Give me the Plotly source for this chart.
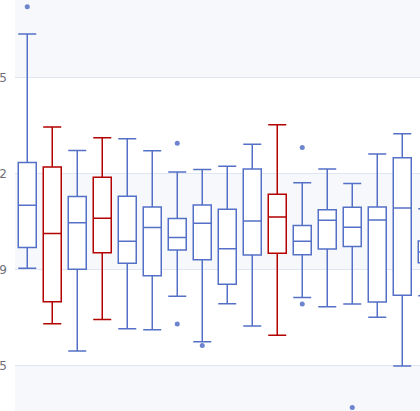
import plotly.graph_objects as go

# ---- data ----
CATEGORIES = ["1", "2", "3", "4", "5", "6", "7", "8", "9",
              "10", "11", "12", "13", "14", "15", "16", "17"]
GROUP = ["b", "r", "b", "r", "b", "b", "b", "b", "b",
         "b", "r", "b", "b", "b", "b", "b", "b"]
UPPER = [16.00, 12.78, 11.97, 12.41, 12.38, 11.96, 11.23, 11.32, 11.43,
         12.19, 12.86, 10.86, 11.33, 10.83, 11.85, 12.55, 9.96]
Q3 = [11.56, 11.40, 10.38, 11.05, 10.39, 10.02, 9.62, 10.09, 9.94,
      11.33, 10.46, 9.38, 9.93, 10.01, 10.02, 11.72, 8.85]
MEDIAN = [10.08, 9.11, 9.48, 9.63, 8.84, 9.31, 8.97, 9.46, 8.58,
          9.54, 9.68, 8.84, 9.56, 9.32, 9.57, 9.99, 8.47]
Q1 = [8.62, 6.75, 7.87, 8.44, 8.08, 7.65, 8.54, 8.20, 7.35,
      8.36, 8.42, 8.37, 8.57, 8.66, 6.74, 6.97, 8.10]
LOWER = [7.91, 5.99, 5.05, 6.14, 5.82, 5.78, 6.94, 5.37, 6.68,
         5.91, 5.59, 6.90, 6.58, 6.67, 6.21, 4.53, 6.96]
OUTLIER_X = ["1", "7", "7", "8", "12", "12", "14"]
OUTLIER_Y = [16.94, 12.22, 5.98, 5.24, 12.08, 6.67, 3.10]
Y_TICKS = [4.54, 7.86, 11.18, 14.50]

# ---- styling ----
COLORS = {"b": "#5470c6", "r": "#b30000"}
SHADE = "#f6f8fc"
GRID = "#e0e6f1"

fig = go.Figure()
for g in ["b", "r"]:
    idx = [i for i, gg in enumerate(GROUP) if gg == g]
    fig.add_trace(go.Box(
        x=[CATEGORIES[i] for i in idx],
        q1=[Q1[i] for i in idx],
        median=[MEDIAN[i] for i in idx],
        q3=[Q3[i] for i in idx],
        lowerfence=[LOWER[i] for i in idx],
        upperfence=[UPPER[i] for i in idx],
        boxpoints=False,
        width=0.72,
        whiskerwidth=1,
        fillcolor="white",
        line=dict(color=COLORS[g], width=1.5),
        showlegend=False,
    ))

fig.add_trace(go.Scatter(
    x=OUTLIER_X, y=OUTLIER_Y, mode="markers",
    marker=dict(color=COLORS["b"], size=5, opacity=0.85),
    showlegend=False,
))

# alternating split areas between tick lines
shapes = []
for k in range(len(Y_TICKS) - 1):
    if k % 2 == 0:
        shapes.append(dict(type="rect", xref="paper", yref="y",
                           x0=0, x1=1, y0=Y_TICKS[k], y1=Y_TICKS[k + 1],
                           fillcolor="white", line=dict(width=0),
                           layer="below"))

fig.update_layout(
    width=420, height=411,
    margin=dict(l=15, r=0, t=0, b=0, pad=0),
    paper_bgcolor="white",
    plot_bgcolor=SHADE,
    boxmode="overlay",
    shapes=shapes,
    showlegend=False,
    xaxis=dict(type="category", categoryorder="array",
               categoryarray=CATEGORIES, range=[-0.49, 15.71],
               showgrid=False, showticklabels=False, zeroline=False,
               showline=False, ticks="", automargin=False),
    yaxis=dict(range=[2.976, 17.17], tickvals=Y_TICKS, tickformat=".1f",
               showgrid=True, gridcolor=GRID, gridwidth=1, zeroline=False,
               showline=False, ticks="", ticklabelstandoff=7,
               automargin=False,
               tickfont=dict(family="DejaVu Sans, sans-serif", size=12,
                             color="#6e7079")),
)

fig.write_html("out.html", config={"displayModeBar": False},
               post_script="document.body.style.margin='0';document.body.style.overflow='hidden';")
